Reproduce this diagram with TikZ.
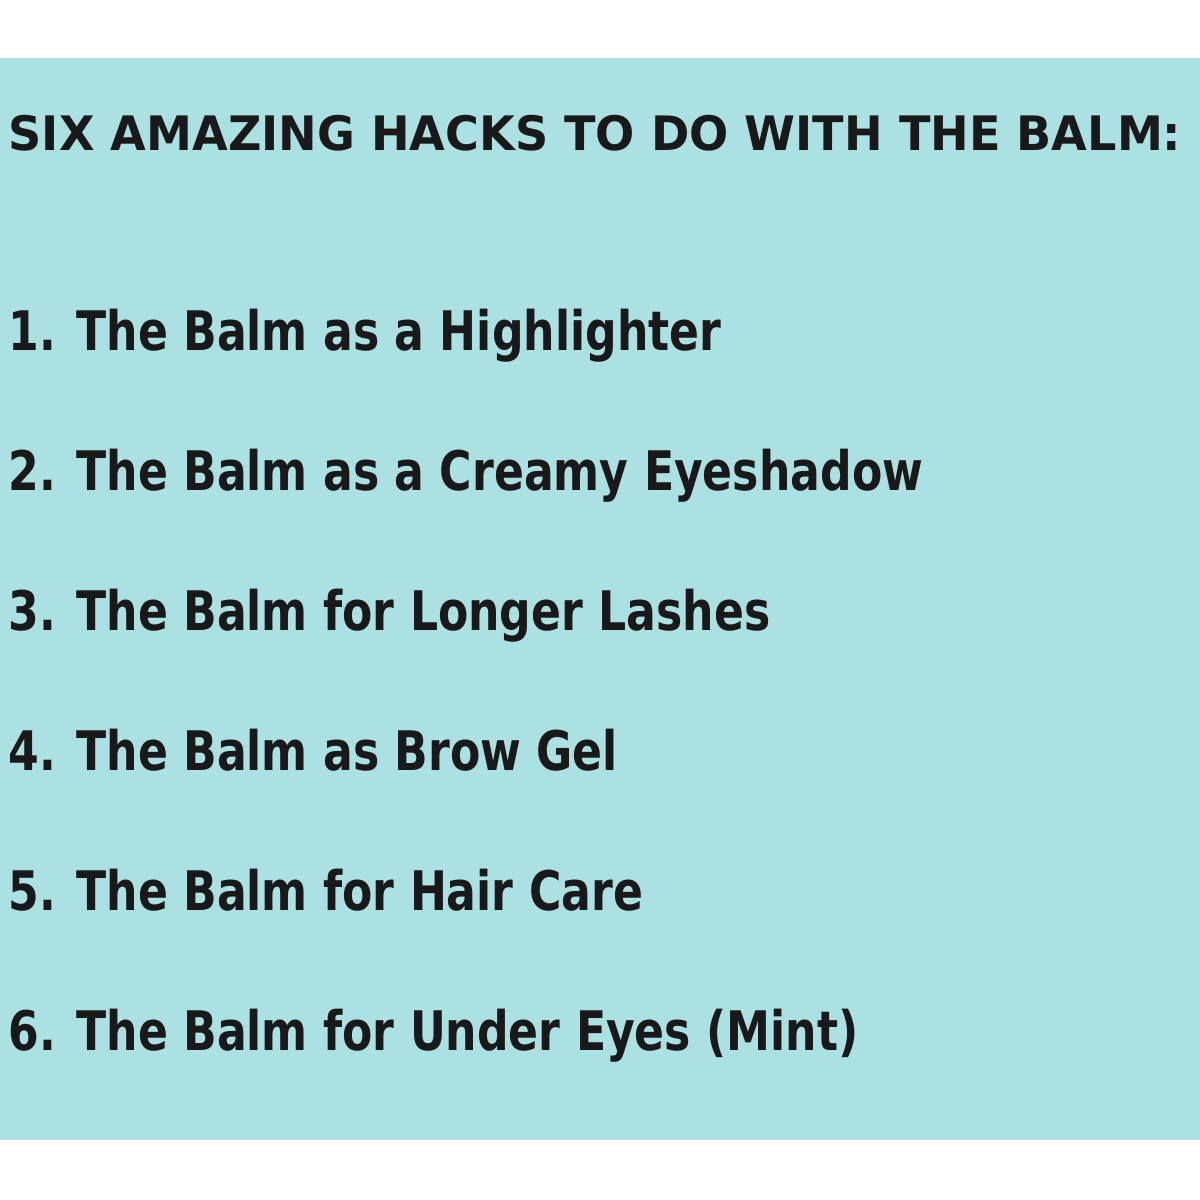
\documentclass[tikz,border=0pt]{standalone}
\usepackage{fontspec}
\setmainfont{DejaVu Sans}
\definecolor{band}{HTML}{ACE1E3}
\begin{document}
\begin{tikzpicture}[x=0.01cm,y=-0.01cm,
  item/.style={anchor=base west,inner sep=0,font=\bfseries\fontsize{15.5}{18}\selectfont,text=black!90,xscale=0.81,transform shape}]
\useasboundingbox (0,0) rectangle (1200,1200);
\fill[white] (0,0) rectangle (1200,1200);
\fill[band] (0,58) rectangle (1200,1140);
\node[item,font=\bfseries\fontsize{13.5}{16}\selectfont,xscale=1.2] (title) at (8,150) {SIX AMAZING HACKS TO DO WITH THE BALM:};
\node[item] (i1) at (8,350) {1. The Balm as a Highlighter};
\node[item] (i2) at (8,490) {2. The Balm as a Creamy Eyeshadow};
\node[item] (i3) at (8,630) {3. The Balm for Longer Lashes};
\node[item] (i4) at (8,770) {4. The Balm as Brow Gel};
\node[item] (i5) at (8,910) {5. The Balm for Hair Care};
\node[item] (i6) at (8,1050) {6. The Balm for Under Eyes (Mint)};
\end{tikzpicture}
\end{document}
